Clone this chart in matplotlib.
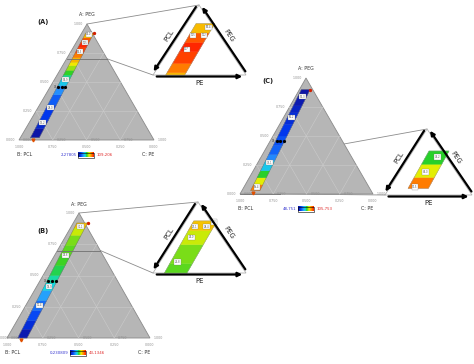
import numpy as np
import matplotlib.pyplot as plt
from matplotlib.colors import LinearSegmentedColormap, Normalize
from matplotlib.patches import Polygon

# ---- data (ternary fractions: a = PEG, c = PE) ----
tick_vals = [0.0, 0.25, 0.5, 0.75, 1.0]
tick_txt = ['0,000', '0,250', '0,500', '0,750', '1,000']

# panel A
edges_A = [0.02, 0.10, 0.17, 0.30, 0.39, 0.47, 0.52, 0.56, 0.60, 0.64, 0.67, 0.71, 0.75, 0.80, 0.84, 0.88, 0.92]
vals_A = [5, 12, 18, 26, 36, 46, 55, 62, 70, 78, 86, 95, 103, 107, 100, 85]
range_A = [2.27805, 109.206]
range_txt_A = ['2,27805', '109,206']
strip_a_A = [0.02, 0.92]
strip_lo_A = [0.075, 0.03]
strip_hi_A = [0.14, 0.09]
lab_a_A = [0.91, 0.84, 0.76, 0.52, 0.28, 0.15]
lab_txt_A = ['93,0', '105', '99,3', '54,9', '28,0', '13,2']
ins_lab_a_A = [0.87, 0.87, 0.905, 0.81]
ins_lab_f_A = [0.2, 0.8, 0.8, 0.3]
ins_lab_txt_A = ['105', '102', '98,4', '107']

# panel B
edges_B = [0.0, 0.07, 0.14, 0.22, 0.30, 0.38, 0.44, 0.50, 0.58, 0.66, 0.74, 0.82, 0.88, 0.92]
vals_B = [2, 5, 8, 11, 15, 19, 21, 23, 24.5, 25.5, 26.5, 29, 33]
range_B = [0.230809, 43.1346]
range_txt_B = ['0,230809', '43,1346']
strip_a_B = [0.0, 0.92]
strip_lo_B = [0.075, 0.025]
strip_hi_B = [0.14, 0.10]
lab_a_B = [0.89, 0.66, 0.41, 0.26]
lab_txt_B = ['30,1', '25,6', '18,9', '10,4']
ins_lab_a_B = [0.895, 0.895, 0.85, 0.915, 0.747]
ins_lab_f_B = [0.2, 0.7, 0.3, 0.9, 0.3]
ins_lab_txt_B = ['27,1', '28,4', '26,0', '31,2', '24,8']

# panel C
edges_C = [0.03, 0.08, 0.14, 0.20, 0.29, 0.34, 0.42, 0.50, 0.60, 0.70, 0.76, 0.83, 0.90]
vals_C = [98, 88, 80, 72, 66, 62, 60, 57, 55, 53, 51, 50]
range_C = [48.751, 105.753]
range_txt_C = ['48,751', '105,753']
strip_a_C = [0.03, 0.90]
strip_lo_C = [0.065, 0.015]
strip_hi_C = [0.135, 0.08]
lab_a_C = [0.84, 0.66, 0.27, 0.06]
lab_txt_C = ['52,3', '56,2', '73,1', '95,4']
ins_lab_a_C = [0.173, 0.105, 0.036]
ins_lab_f_C = [0.6, 0.4, 0.3]
ins_lab_txt_C = ['74,2', '84,0', '97,5']

panels = [
    dict(name='A', top=(87, 24), bl=(19, 140), br=(154, 140), letter=(43, 22),
         edges=edges_A, vals=vals_A, rng=range_A, rtxt=range_txt_A,
         sa=strip_a_A, slo=strip_lo_A, shi=strip_hi_A,
         lab_a=lab_a_A, lab_txt=lab_txt_A,
         sub=[(1.0, 0.0), (0.7, 0.0), (0.7, 0.3)], ins_clip=(0.70, 0.92),
         ins=[(199, 5), (153, 75), (246, 75)],
         ins_lab=(ins_lab_a_A, ins_lab_f_A, ins_lab_txt_A)),
    dict(name='B', top=(79, 213), bl=(7, 338), br=(150, 338), letter=(43, 231),
         edges=edges_B, vals=vals_B, rng=range_B, rtxt=range_txt_B,
         sa=strip_a_B, slo=strip_lo_B, shi=strip_hi_B,
         lab_a=lab_a_B, lab_txt=lab_txt_B,
         sub=[(1.0, 0.0), (0.7, 0.0), (0.7, 0.3)], ins_clip=(0.70, 0.92),
         ins=[(198, 202), (153, 273), (246, 273)],
         ins_lab=(ins_lab_a_B, ins_lab_f_B, ins_lab_txt_B)),
    dict(name='C', top=(306, 78), bl=(240, 194), br=(373, 194), letter=(268, 81),
         edges=edges_C, vals=vals_C, rng=range_C, rtxt=range_txt_C,
         sa=strip_a_C, slo=strip_lo_C, shi=strip_hi_C,
         lab_a=lab_a_C, lab_txt=lab_txt_C,
         sub=[(0.3, 0.0), (0.0, 0.0), (0.0, 0.3)], ins_clip=(0.03, 0.20),
         ins=[(427, 129), (385, 195), (472, 195)],
         ins_lab=(ins_lab_a_C, ins_lab_f_C, ins_lab_txt_C)),
]

cmap = LinearSegmentedColormap.from_list('de', [
    (0.0, '#10109a'), (0.15, '#0038f0'), (0.33, '#2898ff'), (0.45, '#10e0e0'),
    (0.55, '#28d028'), (0.70, '#f0f000'), (0.85, '#ff8800'), (1.0, '#ff1800')])


def tern(p, a, c):
    a = np.asarray(a, float)
    c = np.asarray(c, float)
    b = 1 - a - c
    x = a * p['top'][0] + b * p['bl'][0] + c * p['br'][0]
    y = a * p['top'][1] + b * p['bl'][1] + c * p['br'][1]
    return x, y


def affine(src, dst):
    S = np.column_stack([np.asarray(src, float), np.ones(3)])
    M = np.linalg.solve(S, np.asarray(dst, float))
    return lambda x, y: tuple((np.column_stack([np.atleast_1d(x), np.atleast_1d(y),
                                               np.ones(np.size(x))]) @ M).T)


def strip_c(p, a, f):
    lo = np.interp(a, p['sa'], p['slo'])
    hi = np.interp(a, p['sa'], p['shi'])
    return lo + f * (hi - lo)


fig = plt.figure(figsize=(4.74, 3.64), dpi=100)
ax = fig.add_axes([0, 0, 1, 1])

for p in panels:
    norm = Normalize(p['rng'][0], p['rng'][1])
    tri = np.array([p['top'], p['bl'], p['br']])
    ax.add_patch(Polygon(tri, closed=True, fc='#b6b6b6', ec='#8a8a8a', lw=0.6, zorder=1))

    # grid
    for v in [0.25, 0.5, 0.75]:
        for (a0, c0, a1, c1) in [(v, 0, v, 1 - v), (0, v, 1 - v, v), (1 - v, 0, 0, 1 - v)]:
            x, y = tern(p, [a0, a1], [c0, c1])
            ax.plot(x, y, color='#cbcbcb', lw=0.4, zorder=1.5)

    # tick labels
    for v, t in zip(tick_vals, tick_txt):
        x, y = tern(p, v, 0)
        ax.text(max(x - 4, 9), y, t, fontsize=2.3, color='#8f8f8f', ha='right', va='center')
        x, y = tern(p, 0, v)
        ax.text(x + 4, y, t, fontsize=2.3, color='#8f8f8f', ha='left', va='center')
        x, y = tern(p, 0, 1 - v)
        ax.text(x, y + 7, t, fontsize=2.3, color='#8f8f8f', ha='center', va='center')

    # strip bands
    for i, val in enumerate(p['vals']):
        a0, a1 = p['edges'][i], p['edges'][i + 1]
        aa = [a0, a0, a1, a1]
        cc = [strip_c(p, a0, 0), strip_c(p, a0, 1), strip_c(p, a1, 1), strip_c(p, a1, 0)]
        x, y = tern(p, aa, cc)
        ax.add_patch(Polygon(np.column_stack([x, y]), closed=True, fc=cmap(norm(val)),
                             ec=cmap(norm(val)), lw=0.2, zorder=2))
    ae = [p['edges'][0], p['edges'][0], p['edges'][-1], p['edges'][-1]]
    ce = [strip_c(p, ae[0], 0), strip_c(p, ae[0], 1), strip_c(p, ae[2], 1), strip_c(p, ae[2], 0)]
    x, y = tern(p, ae, ce)
    ax.add_patch(Polygon(np.column_stack([x, y]), closed=True, fc='none', ec='#707070', lw=0.3, zorder=2.5))

    # contour labels
    for a, t in zip(p['lab_a'], p['lab_txt']):
        x, y = tern(p, a, strip_c(p, a, 0.5))
        ax.text(x, y, t, fontsize=1.8, color='#555555', ha='center', va='center', zorder=4,
                bbox=dict(boxstyle='square,pad=0.25', fc='white', ec='#777777', lw=0.2))

    # design points
    am = 0.46
    for f in [0.1, 0.5, 0.9]:
        x, y = tern(p, am, strip_c(p, am, f))
        ax.plot(x, y, 'o', color='k', ms=1.3, zorder=4)
    x, y = tern(p, am, strip_c(p, am, 0))
    ax.text(x - 2, y, '3', fontsize=2.2, ha='right', va='center', zorder=4)
    x, y = tern(p, p['edges'][-1], strip_c(p, p['edges'][-1], 1))
    ax.plot(x, y, 'o', color='#d02000', ms=1.4, zorder=4)
    x, y = tern(p, p['edges'][0], strip_c(p, p['edges'][0], 0.3))
    ax.plot(x, y + 2, 'v', color='#e05000', ms=2, zorder=4)

    # labels
    ax.text(p['top'][0], p['top'][1] - 9, 'A: PEG', fontsize=3.4, ha='center', va='center', color='#333333')
    ax.text(p['bl'][0] + 6, p['bl'][1] + 15, 'B: PCL', fontsize=3.4, ha='center', va='center', color='#333333')
    ax.text(p['br'][0] - 6, p['br'][1] + 15, 'C: PE', fontsize=3.4, ha='center', va='center', color='#333333')
    ax.text(p['letter'][0], p['letter'][1], '(' + p['name'] + ')', fontsize=4.8, fontweight='bold',
            ha='center', va='center', color='#222222')

    # legend bar
    mx = (p['bl'][0] + p['br'][0]) / 2
    by = p['bl'][1] + 15
    ax.imshow(np.linspace(0, 1, 64)[None, :], cmap=cmap, aspect='auto',
              extent=(mx - 8, mx + 8, by + 2.5, by - 2.5), zorder=3)
    ax.add_patch(Polygon([(mx - 8, by - 2.5), (mx + 8, by - 2.5), (mx + 8, by + 2.5), (mx - 8, by + 2.5)],
                         closed=True, fc='none', ec='k', lw=0.4, zorder=3.5))
    ax.text(mx - 10, by, p['rtxt'][0], fontsize=2.8, color='#3535d0', ha='right', va='center')
    ax.text(mx + 10, by, p['rtxt'][1], fontsize=2.8, color='#e02828', ha='left', va='center')

    # zoom region
    sub = p['sub']
    sx, sy = tern(p, [s[0] for s in sub], [s[1] for s in sub])
    ax.plot([sx[1], sx[2]], [sy[1], sy[2]], color='#707070', lw=0.6, zorder=3)
    ins = np.array(p['ins'], float)
    ax.plot([sx[0], ins[0, 0]], [sy[0], ins[0, 1]], color='#8c8c8c', lw=0.6, zorder=0.5)
    ax.plot([sx[2], ins[1, 0]], [sy[2], ins[1, 1]], color='#8c8c8c', lw=0.6, zorder=0.5)

    # inset
    T = affine(np.column_stack([sx, sy]), ins)
    ax.add_patch(Polygon(ins, closed=True, fc='white', ec='#b0b0b0', lw=0.6, zorder=1))
    lo_a, hi_a = p['ins_clip']
    for i, val in enumerate(p['vals']):
        a0, a1 = max(p['edges'][i], lo_a), min(p['edges'][i + 1], hi_a)
        if a1 <= a0:
            continue
        aa = [a0, a0, a1, a1]
        cc = [strip_c(p, a0, 0), strip_c(p, a0, 1), strip_c(p, a1, 1), strip_c(p, a1, 0)]
        x, y = T(*tern(p, aa, cc))
        ax.add_patch(Polygon(np.column_stack([x, y]), closed=True, fc=cmap(norm(val)),
                             ec=cmap(norm(val)), lw=0.3, zorder=2))
    ce = [strip_c(p, lo_a, 0), strip_c(p, lo_a, 1), strip_c(p, hi_a, 1), strip_c(p, hi_a, 0)]
    x, y = T(*tern(p, [lo_a, lo_a, hi_a, hi_a], ce))
    ax.add_patch(Polygon(np.column_stack([x, y]), closed=True, fc='none', ec='#909090', lw=0.3, zorder=2.5))
    la, lf, lt = p['ins_lab']
    for a, f, t in zip(la, lf, lt):
        x, y = T(*tern(p, a, strip_c(p, a, f)))
        ax.text(x[0], y[0], t, fontsize=1.8, color='#555555', ha='center', va='center', zorder=4,
                bbox=dict(boxstyle='square,pad=0.25', fc='white', ec='#777777', lw=0.2))

    # inset arrows and names
    cen = ins.mean(axis=0)
    sides = [(0, 1, 'PCL'), (2, 0, 'PEG'), (1, 2, 'PE')]
    for i0, i1, name in sides:
        p0, p1 = ins[i0], ins[i1]
        d = p1 - p0
        nrm = np.array([d[1], -d[0]]) / np.hypot(*d)
        mid = (p0 + p1) / 2
        if np.dot(mid - cen, nrm) < 0:
            nrm = -nrm
        s0 = p0 + 0.04 * d + nrm * 1.5
        s1 = p0 + 0.96 * d + nrm * 1.5
        ax.annotate('', xy=s1, xytext=s0,
                    arrowprops=dict(arrowstyle='-|>', color='k', lw=1.6, mutation_scale=6,
                                    shrinkA=0, shrinkB=0), zorder=5)
        ang = np.degrees(np.arctan2(-d[1], d[0]))
        if ang > 90:
            ang -= 180
        if ang < -90:
            ang += 180
        tp = mid + nrm * 8
        ax.text(tp[0], tp[1], name, fontsize=5, rotation=ang, rotation_mode='anchor',
                ha='center', va='center', color='#222222')

ax.set_xlim(0, 474)
ax.set_ylim(364, 0)
ax.axis('off')
fig.savefig('out.png', dpi=100)
